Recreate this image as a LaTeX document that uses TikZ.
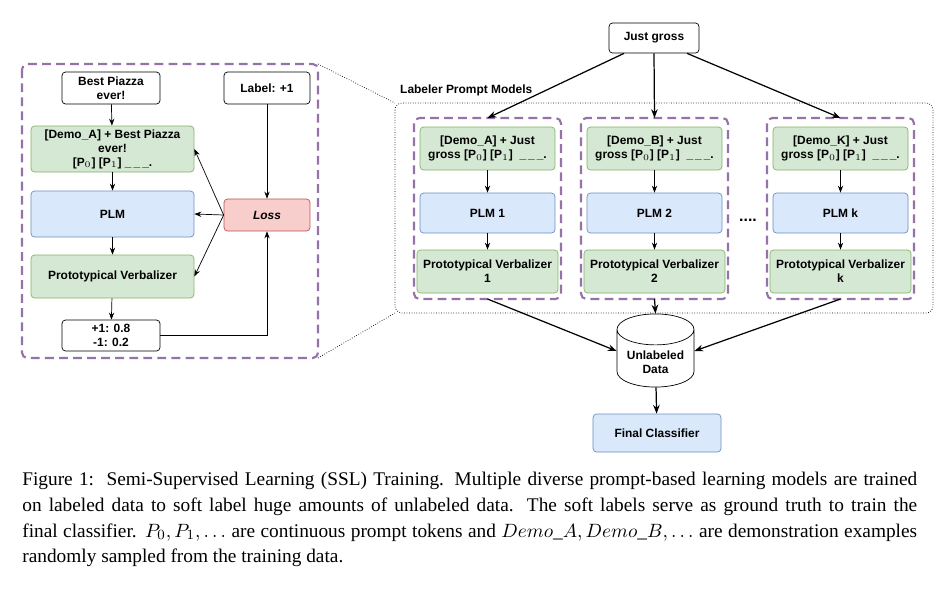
\documentclass[tikz,border=0pt]{standalone}
\usepackage{fontspec}
\setmainfont{Liberation Serif}
\newfontfamily\diagfont{Liberation Sans}
\usetikzlibrary{shapes.geometric,arrows.meta}
\begin{document}
\begin{tikzpicture}[x=0.02cm,y=-0.02cm,
        box/.style={draw, rounded corners=2pt, align=center, inner sep=1pt,
            font=\diagfont\bfseries\fontsize{6.8}{8}\selectfont},
        plain/.style={box, fill=white},
        prompt/.style={box, draw={rgb,255:red,130;green,179;blue,102}, fill={rgb,255:red,213;green,232;blue,212}},
        plm/.style={box, fill={rgb,255:red,218;green,232;blue,252}, draw={rgb,255:red,108;green,142;blue,191}},
        loss/.style={box, fill={rgb,255:red,248;green,206;blue,204}, draw={rgb,255:red,184;green,84;blue,80}},
        group/.style={draw={rgb,255:red,150;green,115;blue,166}, line width=1.2pt, dash pattern=on 5pt off 3pt, rounded corners=3pt},
        arr/.style={-{Stealth[length=4pt]}, line width=0.4pt},
        bigarr/.style={-{Stealth[length=5pt]}, line width=0.7pt}
    ]
    \useasboundingbox (0,0) rectangle (952,589);

    % left: training of one prompt model
    \draw [group] (22,64) rectangle (318,358);
    \node [plain, minimum width=1.96cm, minimum height=0.64cm] (input) at (111,88) {Best Piazza\\ever!};
    \node [plain, minimum width=1.72cm, minimum height=0.64cm] (label) at (267,88) {Label: +1};
    \node [prompt, minimum width=3.26cm, minimum height=0.92cm] (demo) at (112.5,149) {[Demo\_A] + Best Piazza\\ever!\\{[P$_0$] [P$_1$] \_\,\_\,\_.}};
    \node [plm, minimum width=3.26cm, minimum height=0.92cm] (plm) at (112.5,214) {PLM};
    \node [prompt, minimum width=3.26cm, minimum height=0.86cm] (verb) at (112.5,276.5) {Prototypical Verbalizer};
    \node [plain, minimum width=1.96cm, minimum height=0.62cm] (out) at (111,335.5) {+1: 0.8\\-1: 0.2};
    \node [loss, minimum width=1.72cm, minimum height=0.64cm] (loss) at (267,215) {\itshape Loss};

    \draw [arr] (input) -- (demo);
    \draw [arr] (demo) -- (plm);
    \draw [arr] (plm) -- (verb);
    \draw [arr] (verb) -- (out);
    \draw [arr] (label) -- (loss);
    \draw [arr] (out.east) -| (loss.south);
    \draw [arr] (loss.west) -- (demo.east);
    \draw [arr] (loss.west) -- (plm.east);
    \draw [arr] (loss.west) -- (verb.east);

    % zoom lines
    \coordinate (lt) at (318,64);
    \coordinate (lb) at (318,358);
    \coordinate (rt) at (395,103);
    \coordinate (rb) at (395,313);
    \draw [densely dotted] (lt) -- (rt);
    \draw [densely dotted] (lb) -- (rb);

    % right: labeler prompt models
    \draw [densely dotted, rounded corners=4pt] (395,103) rectangle (933,313);
    \node [font=\diagfont\bfseries\fontsize{6.8}{8}\selectfont, anchor=west] (title) at (394,90) {Labeler Prompt Models};
    \node [plain, minimum width=1.8cm, minimum height=0.6cm] (query) at (654,38) {Just gross};

    \foreach \n/\x/\d in {1/487.5/A,2/654.5/B,k/840.5/K} {
        \draw [group] (\x-73.5,118) rectangle (\x+73.5,299);
        \coordinate (top\n) at (\x,118);
        \coordinate (bot\n) at (\x,299);
        \node [prompt, minimum width=2.7cm, minimum height=0.86cm] (demo\n) at (\x,148.5) {[Demo\_\d] + Just\\gross [P$_0$] [P$_1$] \ \_\,\_\,\_.};
        \node [plm, minimum width=2.7cm, minimum height=0.8cm] (plm\n) at (\x,213) {PLM \n};
        \node [prompt, minimum width=2.82cm, minimum height=0.86cm] (verb\n) at (\x,271.5) {Prototypical Verbalizer\\\n};
        \draw [arr] (demo\n) -- (plm\n);
        \draw [arr] (plm\n) -- (verb\n);
    }
    \node [font=\diagfont\bfseries\fontsize{9}{9}\selectfont] (dots) at (748,220) {....};

    \node [cylinder, shape border rotate=90, aspect=0.45, draw, fill=white, align=center,
        minimum width=1.54cm, minimum height=1.3cm,
        font=\diagfont\bfseries\fontsize{6.8}{8}\selectfont] (data) at (655.5,362.5) {Unlabeled\\Data};
    \node [plm, minimum width=2.56cm, minimum height=0.76cm] (final) at (657,433) {Final Classifier};

    \draw [bigarr] ([xshift=-0.6cm]query.south) -- (top1);
    \draw [bigarr] (query.south) -- (top2);
    \draw [bigarr] ([xshift=0.66cm]query.south) -- (topk);
    \draw [bigarr] (bot1) -- (data.west |- 0,351);
    \draw [bigarr] (bot2) -- (data.top);
    \draw [bigarr] (botk) -- (data.east |- 0,351);
    \draw [bigarr] (data) -- (final);

    % caption
    \node [anchor=north west, text width=17.9cm, align=justify, inner sep=0pt,
        font=\fontsize{11}{14.6}\selectfont] (caption) at (22,472) {Figure 1:\ \ Semi-Supervised Learning (SSL) Training. Multiple diverse prompt-based learning models are trained on labeled data to soft label huge amounts of unlabeled data. The soft labels serve as ground truth to train the final classifier. $P_0, P_1, \ldots$ are continuous prompt tokens and $Demo\_A, Demo\_B, \ldots$ are demonstration examples randomly sampled from the training data.};
\end{tikzpicture}
\end{document}
